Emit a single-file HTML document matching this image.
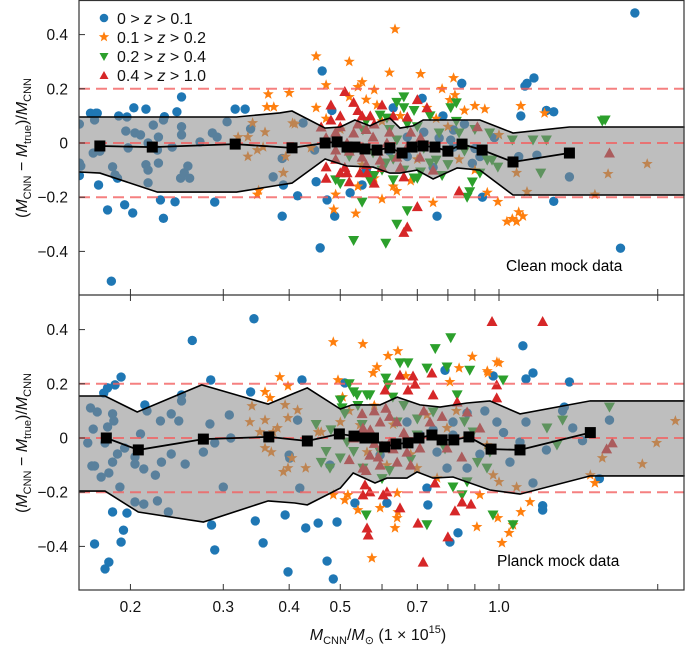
<!DOCTYPE html>
<html><head><meta charset="utf-8"><style>
body{margin:0;background:#fff;}
svg{display:block;font-family:"Liberation Sans",Arial,sans-serif;}
</style></head><body>
<svg id="chart" width="685" height="649" viewBox="0 0 685 649" xmlns="http://www.w3.org/2000/svg">
<defs>
<clipPath id="clipTop"><rect x="79" y="0" width="606" height="295"/></clipPath>
<clipPath id="clipBot"><rect x="79" y="295" width="606" height="295"/></clipPath>
</defs>
<g id="topPanel"></g>
<g id="botPanel"></g>
<g id="axes"></g>
</svg>
<script>
// ---- data (mass in 1e15 Msun, fractional deviation) ----
const topBlue=[[0.16,0.07],[0.168,0.11],[0.172,0.11],[0.173,0.11],[0.171,0.085],[0.16,-0.074],[0.161,-0.085],[0.16,-0.12],[0.174,-0.155],[0.17,-0.037],[0.175,-0.03],[0.181,-0.247],[0.184,-0.51],[0.185,-0.088],[0.187,-0.118],[0.189,-0.13],[0.19,0.1],[0.195,-0.228],[0.196,0.044],[0.197,0.096],[0.202,-0.258],[0.203,0.13],[0.204,0.037],[0.198,-0.018],[0.209,0.03],[0.214,0.125],[0.214,-0.08],[0.216,-0.147],[0.216,-0.1],[0.216,0.0],[0.221,0.066],[0.225,-0.026],[0.226,-0.074],[0.226,0.022],[0.228,-0.21],[0.231,-0.278],[0.232,0.097],[0.231,0.085],[0.24,-0.015],[0.243,-0.217],[0.245,0.115],[0.25,0.17],[0.25,0.06],[0.25,0.03],[0.249,-0.13],[0.253,-0.11],[0.257,-0.085],[0.259,-0.13],[0.271,0.004],[0.286,0.037],[0.292,0.022],[0.289,-0.218],[0.305,0.078],[0.316,0.125],[0.33,0.125],[0.338,0.052],[0.373,-0.125],[0.388,-0.27],[0.388,-0.057],[0.39,-0.155],[0.415,-0.195],[0.462,0.266],[0.482,0.12],[0.45,-0.143],[0.458,-0.387],[0.472,-0.21],[0.488,-0.27],[0.522,-0.184],[0.55,-0.155],[0.63,0.13],[0.715,0.165],[0.85,0.22],[0.763,-0.27],[0.783,0.1],[0.82,0.048],[0.81,0.011],[0.92,-0.05],[0.93,-0.2],[0.89,-0.075],[1.1,0.1],[1.09,-0.05],[1.12,0.21],[1.13,0.22],[1.165,0.24],[1.18,-0.045],[1.23,0.12],[1.27,0.115],[1.27,-0.215],[1.36,-0.125],[0.425,0.074],[0.447,-0.026],[0.77,0.018],[0.82,-0.015],[0.67,-0.05],[0.56,-0.1],[0.67,0.022],[1.81,0.48],[1.7,-0.388],[0.72,0.04],[0.86,0.07],[0.98,0.02],[0.9,-0.02],[0.62,-0.03],[0.75,-0.09]];
const topOrange=[[0.365,0.18],[0.40,0.185],[0.363,0.133],[0.374,0.133],[0.406,0.073],[0.32,0.022],[0.334,0.022],[0.341,0.074],[0.334,-0.05],[0.348,-0.026],[0.357,-0.015],[0.36,0.04],[0.348,-0.19],[0.39,-0.11],[0.394,-0.05],[0.35,-0.175],[0.635,0.42],[0.45,0.32],[0.52,0.3],[0.62,0.26],[0.71,0.255],[0.82,0.24],[0.55,0.225],[0.47,0.214],[0.54,0.207],[0.58,0.196],[0.78,0.2],[0.825,0.177],[0.807,0.159],[0.45,0.13],[0.587,0.14],[0.73,0.13],[0.86,0.12],[0.9,0.137],[0.94,0.125],[1.1,0.137],[1.22,0.11],[0.41,0.07],[0.44,-0.018],[0.39,-0.11],[0.63,-0.16],[0.54,-0.16],[0.64,-0.177],[0.49,-0.19],[0.6,-0.207],[0.75,-0.22],[0.486,-0.245],[0.535,-0.26],[0.95,-0.183],[0.995,-0.217],[1.035,-0.29],[1.06,-0.28],[1.09,-0.255],[1.11,-0.27],[1.08,-0.29],[1.13,-0.18],[1.08,-0.11],[1.91,-0.077],[1.61,-0.114],[1.52,-0.19],[0.5,0.05],[0.6,0.08],[0.7,-0.06],[0.8,0.06],[0.55,-0.08],[0.9,-0.1],[0.47,0.09],[1.0,0.03],[0.65,0.1],[0.52,0.17],[0.56,0.16],[0.58,-0.13],[0.68,-0.14],[0.84,-0.06],[0.76,0.09]];
const topGreen=[[0.64,0.15],[0.66,0.17],[0.66,0.13],[0.69,0.12],[0.83,0.148],[0.81,0.13],[0.595,0.103],[0.613,0.092],[0.55,-0.218],[0.53,-0.36],[0.61,-0.37],[0.67,-0.25],[0.64,-0.30],[0.49,-0.136],[0.63,-0.136],[0.69,-0.129],[0.71,-0.107],[0.89,-0.144],[0.88,-0.18],[0.87,-0.2],[0.92,-0.111],[0.95,-0.063],[0.97,-0.063],[0.995,-0.089],[1.06,0.011],[1.16,0.011],[1.2,-0.111],[1.23,0.011],[0.96,0.037],[0.84,0.037],[0.77,0.037],[0.61,-0.074],[0.64,0.011],[0.577,-0.037],[0.74,-0.074],[0.76,-0.063],[0.552,0.048],[1.57,0.081],[1.59,0.085],[0.5,-0.15],[0.58,-0.12],[0.7,0.06],[0.52,-0.05],[0.66,-0.1],[0.78,-0.12],[0.86,-0.03],[0.62,0.05],[0.56,0.08],[0.6,-0.1],[0.63,-0.06],[0.67,0.07],[0.72,-0.02],[0.8,-0.08],[0.83,0.08],[0.9,0.05],[0.57,-0.14],[0.7,-0.13],[0.74,0.1]];
const topRed=[[0.53,0.15],[0.54,0.12],[0.55,0.1],[0.57,0.1],[0.48,0.085],[0.63,0.1],[0.67,0.096],[0.7,0.16],[0.73,0.13],[0.47,-0.088],[0.515,-0.11],[0.52,-0.143],[0.545,-0.11],[0.562,-0.11],[0.58,-0.148],[0.66,-0.125],[0.70,-0.235],[0.67,-0.31],[0.66,-0.33],[0.84,-0.177],[0.5,-0.11],[0.46,0.059],[0.53,0.037],[0.49,-0.026],[0.55,-0.052],[0.515,0.0],[0.552,-0.015],[0.577,0.022],[0.595,-0.063],[0.613,0.0],[0.64,-0.052],[0.669,-0.015],[0.708,-0.052],[0.91,0.06],[1.62,-0.037],[0.48,0.14],[0.51,0.19],[0.6,-0.09],[0.5,0.06],[0.56,0.05],[0.47,-0.13],[0.6,0.14],[0.75,-0.1],[0.47,0.02],[0.49,-0.06],[0.5,0.1],[0.52,-0.03],[0.54,0.07],[0.56,-0.08],[0.58,0.07],[0.59,-0.03],[0.62,0.04],[0.65,-0.09],[0.68,0.04],[0.71,0.02],[0.49,0.04],[0.51,-0.09]];
const topBandMass=[0.16,0.175,0.318,0.384,0.405,0.468,0.5,0.533,0.569,0.595,0.621,0.649,0.687,0.718,0.92,1.063,1.36,2.25];
const topBandUpper=[0.096,0.096,0.096,0.111,0.118,0.055,0.059,0.085,0.063,0.081,0.092,0.055,0.063,0.085,0.085,0.037,0.059,0.059];
const topLowMass=[0.16,0.175,0.225,0.318,0.384,0.405,0.468,0.515,0.577,0.621,0.649,0.699,0.75,0.833,0.92,1.063,2.25];
const topBandLower=[-0.107,-0.111,-0.181,-0.181,-0.155,-0.148,-0.059,-0.085,-0.089,-0.111,-0.111,-0.1,-0.133,-0.092,-0.1,-0.192,-0.192];
const topMedMass=[0.175,0.22,0.316,0.405,0.468,0.493,0.515,0.533,0.557,0.587,0.621,0.655,0.684,0.718,0.756,0.8,0.851,0.929,1.063,1.36];
const topMedian=[-0.011,-0.015,-0.004,-0.018,0,0.004,-0.015,-0.015,-0.022,-0.026,-0.018,-0.037,-0.015,-0.011,-0.015,-0.03,-0.004,-0.026,-0.07,-0.037];

const botBlue=[[0.343,0.44],[0.262,0.36],[0.192,0.225],[0.187,0.196],[0.181,0.185],[0.178,0.166],[0.284,0.214],[0.338,0.17],[0.25,0.159],[0.168,0.111],[0.173,0.096],[0.185,0.089],[0.186,0.063],[0.181,0.041],[0.17,0.033],[0.166,-0.018],[0.179,-0.018],[0.189,-0.059],[0.195,-0.037],[0.204,-0.07],[0.209,0.015],[0.213,0.122],[0.215,0.1],[0.228,0.063],[0.239,0.089],[0.247,0.063],[0.25,0.137],[0.239,-0.059],[0.229,-0.089],[0.223,-0.137],[0.212,-0.114],[0.204,-0.096],[0.185,-0.089],[0.171,-0.103],[0.169,-0.103],[0.176,-0.144],[0.182,-0.129],[0.254,-0.096],[0.283,0.052],[0.308,0.085],[0.275,-0.052],[0.289,-0.018],[0.31,0.0],[0.3,-0.181],[0.191,-0.181],[0.204,-0.236],[0.212,-0.244],[0.225,-0.232],[0.236,-0.273],[0.197,-0.277],[0.185,-0.273],[0.194,-0.34],[0.192,-0.384],[0.171,-0.391],[0.182,-0.458],[0.179,-0.483],[0.285,-0.321],[0.345,-0.306],[0.357,-0.387],[0.289,-0.413],[0.393,-0.284],[0.398,-0.494],[0.4,-0.063],[0.423,0.214],[0.51,0.203],[0.43,-0.332],[0.454,-0.314],[0.493,-0.31],[0.472,-0.454],[0.485,-0.52],[0.533,-0.24],[0.613,-0.24],[0.73,-0.185],[0.733,-0.247],[0.836,-0.35],[0.807,-0.384],[1.11,0.34],[1.125,0.218],[1.16,0.24],[1.21,-0.266],[1.36,0.207],[0.975,0.229],[0.79,0.25],[1.32,0.1],[1.38,0.037],[1.23,-0.044],[0.87,0.092],[0.818,0.011],[0.763,-0.052],[0.87,-0.111],[0.708,0.011],[0.669,0.059],[0.818,0.059],[0.991,0.059],[1.096,-0.015],[1.049,-0.089],[1.16,-0.166],[1.125,0.059],[0.797,-0.111],[0.595,-0.063],[0.478,-0.1],[0.419,-0.185],[0.415,0.066],[0.401,-0.074],[1.55,-0.15],[1.21,-0.25],[1.62,0.066],[1.44,-0.01],[1.33,0.114],[0.92,-0.06],[1.02,0.02],[0.94,0.1],[0.75,0.03]];
const botOrange=[[0.485,0.354],[0.552,0.347],[0.616,0.303],[0.643,0.321],[0.587,0.262],[0.577,0.24],[0.666,0.229],[0.89,0.3],[0.84,0.258],[0.991,0.28],[0.95,0.247],[0.807,0.207],[0.505,0.151],[0.495,0.214],[0.415,0.103],[0.454,0.022],[0.43,-0.111],[0.398,-0.111],[0.485,-0.21],[0.51,-0.229],[0.517,-0.21],[0.54,-0.266],[0.595,-0.258],[0.641,-0.203],[0.643,-0.273],[0.641,-0.295],[0.635,-0.332],[0.574,-0.443],[0.92,-0.21],[0.908,-0.328],[0.995,-0.295],[1.013,-0.387],[1.045,-0.35],[1.063,-0.321],[1.1,-0.273],[1.145,-0.236],[0.975,-0.137],[1.0,-0.162],[1.08,-0.181],[0.763,-0.148],[0.699,-0.111],[0.613,-0.1],[0.562,-0.052],[0.545,0.048],[0.5,0.059],[0.46,0.022],[0.73,0.085],[0.797,0.037],[0.87,0.0],[0.949,-0.026],[0.384,0.225],[0.398,0.192],[0.36,0.17],[0.368,0.148],[0.34,0.118],[0.393,0.122],[0.337,0.059],[0.36,0.066],[0.38,0.037],[0.352,0.022],[0.373,0.022],[0.368,0.0],[0.36,-0.037],[0.37,-0.052],[0.39,-0.125],[0.405,-0.074],[0.398,0.074],[1.0,0.277],[0.953,0.24],[2.16,0.063],[1.99,-0.018],[1.87,-0.096],[1.57,-0.074],[1.52,-0.166],[1.49,-0.137],[0.52,0.1],[0.58,0.12],[0.68,-0.06],[0.83,0.1],[0.63,0.05]];
const botGreen=[[0.81,0.37],[0.757,0.33],[0.649,0.277],[0.672,0.277],[0.73,0.258],[0.797,0.262],[0.88,0.25],[0.61,0.221],[0.538,0.159],[0.562,0.159],[0.629,0.151],[0.616,0.196],[1.018,0.214],[0.504,0.111],[0.478,-0.111],[0.5,-0.074],[0.515,-0.015],[0.552,-0.111],[0.595,-0.052],[0.641,0.059],[0.699,0.011],[0.75,0.096],[0.833,0.159],[0.893,0.022],[0.961,-0.052],[0.949,-0.111],[0.87,-0.162],[0.818,-0.181],[0.851,-0.21],[0.73,-0.32],[0.56,-0.284],[0.974,-0.284],[1.063,-0.32],[1.233,0.037],[1.288,-0.026],[0.569,0.159],[1.62,0.114],[1.32,0.066],[0.52,0.2],[0.53,0.17],[0.55,0.05],[0.6,-0.15],[0.68,-0.08],[0.45,0.05],[0.47,-0.05],[0.5,0.14],[0.51,0.09],[0.48,0.03],[0.53,-0.05],[0.46,-0.09],[0.62,-0.12],[0.7,0.07],[0.79,-0.04],[0.86,0.06],[0.54,0.12],[0.66,0.12],[0.91,-0.09]];
const botRed=[[0.97,0.43],[1.21,0.43],[0.649,0.232],[0.687,0.229],[0.746,0.24],[0.693,0.199],[0.672,0.177],[0.75,0.159],[0.608,0.177],[0.99,0.196],[0.99,0.148],[0.833,0.133],[0.552,0.037],[0.595,0.059],[0.621,-0.015],[0.569,-0.063],[0.669,-0.052],[0.708,-0.037],[0.552,-0.111],[0.595,-0.1],[0.641,-0.089],[0.74,0.059],[0.797,-0.037],[0.92,0.037],[0.87,0.096],[0.557,-0.173],[0.552,-0.21],[0.569,-0.199],[0.603,-0.21],[0.613,-0.199],[0.649,-0.258],[0.702,-0.314],[0.825,-0.269],[0.851,-0.236],[0.885,-0.244],[0.562,-0.332],[0.565,-0.358],[0.718,-0.458],[0.8,-0.365],[0.756,-0.166],[1.64,-0.018],[1.6,-0.04],[0.58,0.1],[0.62,0.08],[0.53,0.0],[0.66,0.02],[0.6,-0.03],[0.52,-0.08],[0.55,0.09],[0.57,0.03],[0.59,-0.07],[0.61,0.11],[0.63,-0.04],[0.56,-0.12],[0.58,-0.02],[0.64,0.06],[0.68,-0.1],[0.72,0.1],[0.78,0.08],[0.85,-0.07]];
const botBandMass=[0.16,0.179,0.206,0.273,0.365,0.41,0.433,0.5,0.526,0.595,0.641,0.708,0.773,0.87,0.961,1.096,1.49,2.25];
const botBandUpper=[0.155,0.155,0.096,0.196,0.125,0.166,0.185,0.107,0.122,0.122,0.151,0.122,0.114,0.129,0.137,0.089,0.137,0.137];
const botLowMass=[0.16,0.179,0.207,0.275,0.365,0.41,0.433,0.5,0.529,0.582,0.613,0.669,0.699,0.75,0.818,0.961,1.096,1.49,2.25];
const botBandLower=[-0.196,-0.196,-0.273,-0.31,-0.232,-0.24,-0.247,-0.185,-0.129,-0.166,-0.148,-0.148,-0.125,-0.148,-0.144,-0.192,-0.207,-0.14,-0.14];
const botMedMass=[0.18,0.207,0.275,0.366,0.433,0.498,0.531,0.557,0.578,0.607,0.638,0.672,0.705,0.746,0.78,0.821,0.877,0.966,1.096,1.49];
const botMedian=[0,-0.044,-0.004,0.004,-0.011,0.015,0.007,0,0,-0.033,-0.022,-0.018,0,0.011,-0.007,-0.007,0.004,-0.041,-0.044,0.02];

const yTicks=[0.4,0.2,0,-0.2,-0.4];
const yTickLabels=["0.4","0.2","0","\u22120.2","\u22120.4"];
const xTicks=[0.2,0.3,0.4,0.5,0.6,0.7,0.8,0.9,1.0,2.0];
const xTickLabels=["0.2","0.3","0.4","0.5","","0.7","","","1.0",""];

// ---- scales ----
const X0=79,X1=684;
function xs(m){return 499+229*Math.log(m);}
function ysTop(d){return 143-271*d;}
function ysBot(d){return 438-271*d;}
const NS="http://www.w3.org/2000/svg";
function mk(tag,attrs,parent){const e=document.createElementNS(NS,tag);for(const k in attrs)e.setAttribute(k,attrs[k]);parent.appendChild(e);return e;}
const COL={blue:"#1f77b4",orange:"#ff7f0e",green:"#2ca02c",red:"#d62728"};
function starPath(cx,cy,R,r){let p="";for(let i=0;i<10;i++){const a=-Math.PI/2+i*Math.PI/5;const rr=i%2?r:R;p+=(i?"L":"M")+(cx+rr*Math.cos(a)).toFixed(1)+","+(cy+rr*Math.sin(a)).toFixed(1);}return p+"Z";}
function marker(kind,cx,cy,g){
  let e;
  if(kind==="blue"){e=mk("circle",{cx:cx,cy:cy,r:4.7,fill:COL.blue},g);}
  else if(kind==="orange"){e=mk("path",{d:starPath(cx,cy,5.8,2.4),fill:COL.orange},g);}
  else if(kind==="green"){e=mk("path",{d:`M${cx-5.5},${cy-4.5}L${cx+5.5},${cy-4.5}L${cx},${cy+5.5}Z`,fill:COL.green},g);}
  else {e=mk("path",{d:`M${cx-5.5},${cy+4.5}L${cx+5.5},${cy+4.5}L${cx},${cy-5.5}Z`,fill:COL.red},g);}
  return e;
}
function drawPanel(g,ys,clip,series,bandUM,bandU,bandLM,bandL,medM,med,label,lx,ly,panelName){
  const inner=mk("g",{"clip-path":`url(#${clip})`},g);
  for(const [kind,arr] of series){
    const sg=mk("g",{},inner);
    
    
    for(const [m,d] of arr){
      const el=marker(kind,xs(m),ys(d),sg);
      
      
    }
  }
  let p="";
  bandUM.forEach((m,i)=>{p+=(i?"L":"M")+xs(m).toFixed(1)+","+ys(bandU[i]).toFixed(1);});
  for(let i=bandLM.length-1;i>=0;i--){p+="L"+xs(bandLM[i]).toFixed(1)+","+ys(bandL[i]).toFixed(1);}
  p+="Z";
  const band=mk("path",{d:p,fill:"#898989","fill-opacity":0.55,stroke:"none"},inner);
  
  
  [0.2,0,-0.2].forEach(v=>{
    const l=mk("line",{x1:X0,x2:X1,y1:ys(v),y2:ys(v),stroke:"#f26060","stroke-opacity":0.8,"stroke-width":2,"stroke-dasharray":"11,6"},inner);
    
    
  });
  let up="";bandUM.forEach((m,i)=>{up+=(i?"L":"M")+xs(m).toFixed(1)+","+ys(bandU[i]).toFixed(1);});
  let lo="";bandLM.forEach((m,i)=>{lo+=(i?"L":"M")+xs(m).toFixed(1)+","+ys(bandL[i]).toFixed(1);});
  const ue=mk("path",{d:up,fill:"none",stroke:"#000","stroke-width":1.6},inner);
  
  
  const le=mk("path",{d:lo,fill:"none",stroke:"#000","stroke-width":1.6},inner);
  
  
  let md="";medM.forEach((m,i)=>{md+=(i?"L":"M")+xs(m).toFixed(1)+","+ys(med[i]).toFixed(1);});
  const ml=mk("path",{d:md,fill:"none",stroke:"#000","stroke-width":1.8},inner);
  
  
  medM.forEach((m,i)=>{
    const s=mk("rect",{x:xs(m)-5.5,y:ys(med[i])-5.5,width:11,height:11,fill:"#000"},inner);
    
    
  });
  const t=mk("text",{x:lx,y:ly,"font-size":15.5,fill:"#000"},g);
  t.textContent=label;
  
  
}
const topG=document.getElementById("topPanel"),botG=document.getElementById("botPanel");
drawPanel(topG,ysTop,"clipTop",[["blue",topBlue],["orange",topOrange],["green",topGreen],["red",topRed]],topBandMass,topBandUpper,topLowMass,topBandLower,topMedMass,topMedian,"Clean mock data",506,271,"clean");
drawPanel(botG,ysBot,"clipBot",[["blue",botBlue],["orange",botOrange],["green",botGreen],["red",botRed]],botBandMass,botBandUpper,botLowMass,botBandLower,botMedMass,botMedian,"Planck mock data",497,566,"planck");

const ax=document.getElementById("axes");
mk("rect",{x:79,y:0.5,width:605,height:589.5,fill:"none",stroke:"#333","stroke-width":1.2},ax);
mk("line",{x1:79,x2:684,y1:295,y2:295,stroke:"#333","stroke-width":1.2},ax);
[[ysTop,"top"],[ysBot,"bottom"]].forEach(([ys,nm])=>{
  yTicks.forEach((v,i)=>{
    mk("line",{x1:79,x2:85,y1:ys(v),y2:ys(v),stroke:"#333"},ax);
    const t=mk("text",{x:68,y:ys(v)+5.5,"text-anchor":"end","font-size":15.5,fill:"#111"},ax);
    t.textContent=yTickLabels[i];
    
    
  });
});
xTicks.forEach((m,i)=>{
  const x=xs(m);
  mk("line",{x1:x,x2:x,y1:590,y2:584,stroke:"#333"},ax);
  mk("line",{x1:x,x2:x,y1:295,y2:289,stroke:"#333"},ax);
  mk("line",{x1:x,x2:x,y1:295,y2:301,stroke:"#333"},ax);
  if(xTickLabels[i]){
    const t=mk("text",{x:x,y:612,"text-anchor":"middle","font-size":15.5,fill:"#111"},ax);
    t.textContent=xTickLabels[i];
    
    
  }
});
</script>
<svg style="position:absolute;left:0;top:0" width="685" height="649" xmlns="http://www.w3.org/2000/svg">
<g font-size="16" fill="#111">
  <circle cx="104" cy="18" r="4.3" fill="#1f77b4"/>
  <text x="117" y="24">0 &gt; <tspan font-style="italic">z</tspan> &gt; 0.1</text>
  <path d="M104,31.5L105.4,35.1L109.2,35.3L106.2,37.7L107.2,41.4L104,39.3L100.8,41.4L101.8,37.7L98.8,35.3L102.6,35.1Z" fill="#ff7f0e"/>
  <text x="117" y="43">0.1 &gt; <tspan font-style="italic">z</tspan> &gt; 0.2</text>
  <path d="M99.5,53L108.5,53L104,61Z" fill="#2ca02c"/>
  <text x="117" y="62">0.2 &gt; <tspan font-style="italic">z</tspan> &gt; 0.4</text>
  <path d="M99.5,79L108.5,79L104,71Z" fill="#d62728"/>
  <text x="117" y="81">0.4 &gt; <tspan font-style="italic">z</tspan> &gt; 1.0</text>
</g>
<text transform="translate(27,148) rotate(-90)" text-anchor="middle" font-size="16" fill="#111">(<tspan font-style="italic">M</tspan><tspan font-size="11" dy="4">CNN</tspan><tspan dy="-4"> − </tspan><tspan font-style="italic">M</tspan><tspan font-size="11" dy="4">true</tspan><tspan dy="-4">)/</tspan><tspan font-style="italic">M</tspan><tspan font-size="11" dy="4">CNN</tspan></text>
<text transform="translate(27,443) rotate(-90)" text-anchor="middle" font-size="16" fill="#111">(<tspan font-style="italic">M</tspan><tspan font-size="11" dy="4">CNN</tspan><tspan dy="-4"> − </tspan><tspan font-style="italic">M</tspan><tspan font-size="11" dy="4">true</tspan><tspan dy="-4">)/</tspan><tspan font-style="italic">M</tspan><tspan font-size="11" dy="4">CNN</tspan></text>
<text x="378" y="640" text-anchor="middle" font-size="16" fill="#111"><tspan font-style="italic">M</tspan><tspan font-size="11" dy="4">CNN</tspan><tspan dy="-4">/</tspan><tspan font-style="italic">M</tspan><tspan font-size="11" dy="4">⊙</tspan><tspan dy="-4"> (1 × 10</tspan><tspan font-size="11" dy="-7">15</tspan><tspan dy="7">)</tspan></text>
</svg>
</body></html>
